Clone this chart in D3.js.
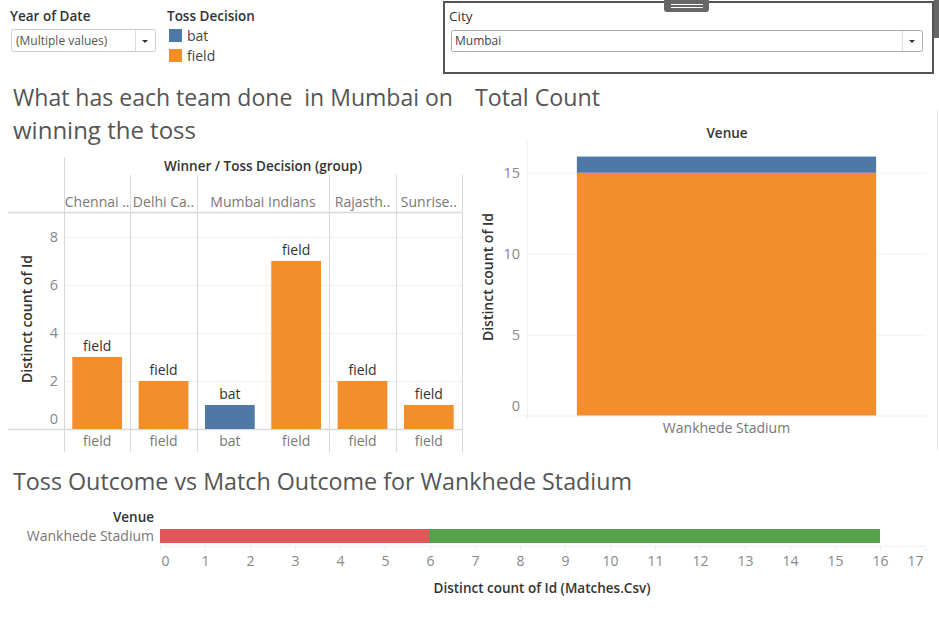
<!DOCTYPE html>
<html><head><meta charset="utf-8">
<script src="https://cdn.jsdelivr.net/npm/d3@7"></script>
<style>
body{margin:0;background:#fff;}
svg{display:block;font-family:"Open Sans",sans-serif;}
text{white-space:pre;}
</style></head>
<body><svg id="c" width="939" height="633"></svg>
<script>
// ---- data ----
const teams = ["Chennai ..", "Delhi Ca..", "Mumbai Indians", "Rajasth..", "Sunrise.."];
const barTeams = ["Chennai ..", "Delhi Ca..", "Mumbai Indians", "Mumbai Indians", "Rajasth..", "Sunrise.."];
const barDecisions = ["field", "field", "bat", "field", "field", "field"];
const barValues = [3, 2, 1, 7, 2, 1];
const leftTicks = [0, 2, 4, 6, 8];

const venueName = "Wankhede Stadium";
const venueDecisions = ["field", "bat"];
const venueValues = [15, 1];
const rightTicks = [0, 5, 10, 15];

const outcomeNames = ["Lost", "Won"];
const outcomeValues = [6, 10];
const bottomTicks = d3.range(0, 18);

const decisions = ["bat", "field"];
const colors = {bat: "#4E79A7", field: "#F28E2B"};
const outcomeColors = {Lost: "#E15759", Won: "#59A14F"};

const svg = d3.select("#c");
const txt = "#666", dark = "#333", grid = "#f0f0f0", line = "#d9d9d9";

// ---- top filters ----
svg.append("text").attr("x", 10).attr("y", 21).attr("font-size", 13.5).attr("font-weight", 600).attr("fill", dark).text("Year of Date");
svg.append("rect").attr("x", 11.5).attr("y", 29.5).attr("width", 144).attr("height", 22).attr("fill", "#fff").attr("stroke", "#ccc").attr("rx", 2);
svg.append("line").attr("x1", 135.5).attr("x2", 135.5).attr("y1", 30).attr("y2", 51).attr("stroke", "#ddd");
svg.append("text").attr("x", 16).attr("y", 45).attr("font-size", 12).attr("fill", "#555").text("(Multiple values)");
svg.append("path").attr("d", "M142,40 l6,0 l-3,3 z").attr("fill", "#333");

svg.append("text").attr("x", 167).attr("y", 21).attr("font-size", 13.5).attr("font-weight", 600).attr("fill", dark).text("Toss Decision");
const leg = svg.append("g").selectAll("g").data(decisions).join("g")
  .attr("transform", (d, i) => `translate(169,${29 + i * 20})`);
leg.append("rect").attr("width", 13).attr("height", 13).attr("fill", d => colors[d]);
leg.append("text").attr("x", 18).attr("y", 11.5).attr("font-size", 14).attr("fill", "#444").text(d => d);

// City filter
svg.append("rect").attr("x", 444).attr("y", 2).attr("width", 489).attr("height", 71).attr("fill", "#fff").attr("stroke", "#555").attr("stroke-width", 2);
svg.append("path").attr("d", "M664,0 h45 v9 q0,3 -3,3 h-39 q-3,0 -3,-3 z").attr("fill", "#666");
svg.append("line").attr("x1", 671).attr("x2", 703).attr("y1", 4.5).attr("y2", 4.5).attr("stroke", "#fff");
svg.append("line").attr("x1", 671).attr("x2", 703).attr("y1", 7.5).attr("y2", 7.5).attr("stroke", "#fff");
svg.append("rect").attr("x", 934).attr("y", 0).attr("width", 5).attr("height", 38).attr("fill", "#666");
svg.append("text").attr("x", 449).attr("y", 21).attr("font-size", 13.5).attr("fill", dark).text("City");
svg.append("rect").attr("x", 451.5).attr("y", 30.5).attr("width", 471).attr("height", 21).attr("fill", "#fff").attr("stroke", "#aaa").attr("rx", 2);
svg.append("line").attr("x1", 902.5).attr("x2", 902.5).attr("y1", 31).attr("y2", 51).attr("stroke", "#ddd");
svg.append("text").attr("x", 455).attr("y", 45).attr("font-size", 12).attr("fill", "#444").text("Mumbai");
svg.append("path").attr("d", "M909,40 l6,0 l-3,3 z").attr("fill", "#333");

// ---- titles ----
function title(t, x, y, w, fs) {
  svg.append("text").attr("x", x).attr("y", y).attr("font-size", fs).attr("font-weight", 400)
    .attr("fill", "#555").attr("textLength", w).attr("lengthAdjust", "spacingAndGlyphs").text(t);
}
title("What has each team done  in Mumbai on", 13, 106, 440, 23);
title("winning the toss", 13, 139, 183, 23);
title("Total Count", 475, 106, 125, 23);
title("Toss Outcome vs Match Outcome for Wankhede Stadium", 13, 490, 619, 23);

// ---- left chart ----
const L = {x0: 64, x1: 462, top: 212, base: 429};
const cols = d3.range(barValues.length);
const xL = d3.scaleBand().domain(cols).range([L.x0, L.x1]).paddingInner(0.25).paddingOuter(0.125);
const yL = d3.scaleLinear().domain([0, 9.04]).range([L.base, L.top]);
const step = xL.step();

const gL = svg.append("g");
gL.selectAll(".g").data(leftTicks.slice(1)).join("line")
  .attr("x1", L.x0).attr("x2", L.x1).attr("y1", d => yL(d) + 0.5).attr("y2", d => yL(d) + 0.5).attr("stroke", grid);
const teamStart = teams.map(t => barTeams.indexOf(t));
const teamCount = teams.map(t => barTeams.filter(b => b === t).length);
const bounds = teams.map((t, i) => [L.x0 + teamStart[i] * step, L.x0 + (teamStart[i] + teamCount[i]) * step]);
const vx = [L.x0].concat(bounds.map(b => b[1]));
gL.selectAll(".v").data(vx).join("line")
  .attr("x1", d => Math.round(d) + 0.5).attr("x2", d => Math.round(d) + 0.5)
  .attr("y1", (d, i) => i === 0 ? 157 : 175).attr("y2", 452).attr("stroke", line);
gL.append("line").attr("x1", 8).attr("x2", L.x1).attr("y1", L.top + 0.5).attr("y2", L.top + 0.5).attr("stroke", line).attr("stroke-width", 1.5);
gL.append("line").attr("x1", 8).attr("x2", L.x1).attr("y1", L.base + 0.5).attr("y2", L.base + 0.5).attr("stroke", line).attr("stroke-width", 1.5);
gL.append("text").attr("x", 263).attr("y", 171).attr("text-anchor", "middle").attr("font-size", 13.5).attr("font-weight", 600).attr("fill", dark).text("Winner / Toss Decision (group)");
gL.selectAll(".tn").data(teams).join("text")
  .attr("x", (d, i) => (bounds[i][0] + bounds[i][1]) / 2).attr("y", 207).attr("text-anchor", "middle")
  .attr("font-size", 14).attr("fill", "#777").text(d => d);
const yAx = d3.axisLeft(yL).tickValues(leftTicks).tickSize(0).tickPadding(0);
const ya = gL.append("g").attr("transform", "translate(58,0)").call(yAx);
ya.select(".domain").remove();
ya.selectAll("text").attr("font-size", 14.5).attr("fill", "#888").attr("font-family", "Open Sans")
  .attr("dy", d => d === 0 ? "-0.35em" : "0.32em");
gL.append("text").attr("transform", "translate(32,319) rotate(-90)").attr("text-anchor", "middle")
  .attr("font-size", 14).attr("font-weight", 600).attr("fill", dark).text("Distinct count of Id");
gL.selectAll(".bar").data(cols).join("rect")
  .attr("x", i => xL(i)).attr("width", xL.bandwidth())
  .attr("y", i => yL(barValues[i])).attr("height", i => yL(0) - yL(barValues[i]))
  .attr("fill", i => colors[barDecisions[i]]);
gL.selectAll(".lab").data(cols).join("text")
  .attr("x", i => xL(i) + xL.bandwidth() / 2).attr("y", i => yL(barValues[i]) - 6)
  .attr("text-anchor", "middle").attr("font-size", 14).attr("fill", dark).text(i => barDecisions[i]);
gL.selectAll(".bl").data(cols).join("text")
  .attr("x", i => xL(i) + xL.bandwidth() / 2).attr("y", 446)
  .attr("text-anchor", "middle").attr("font-size", 14).attr("fill", "#777").text(i => barDecisions[i]);

// ---- right chart ----
const R = {x0: 527, x1: 926, top: 142, base: 415.5};
const xR = d3.scaleBand().domain([venueName]).range([R.x0, R.x1]).paddingInner(0.25).paddingOuter(0.125);
const yR = d3.scaleLinear().domain([0, 16.9]).range([R.base, R.top]);
const gR = svg.append("g");
gR.append("text").attr("x", 727).attr("y", 138).attr("text-anchor", "middle").attr("font-size", 13.5).attr("font-weight", 600).attr("fill", dark).text("Venue");
gR.selectAll(".g").data(rightTicks.slice(1)).join("line")
  .attr("x1", R.x0).attr("x2", R.x1).attr("y1", d => yR(d) + 0.5).attr("y2", d => yR(d) + 0.5).attr("stroke", grid);
gR.append("line").attr("x1", R.x0 - 12).attr("x2", R.x1).attr("y1", R.base + 0.5).attr("y2", R.base + 0.5).attr("stroke", grid);
gR.append("line").attr("x1", R.x0 + 0.5).attr("x2", R.x0 + 0.5).attr("y1", R.top).attr("y2", 419).attr("stroke", grid);
gR.append("line").attr("x1", 937.5).attr("x2", 937.5).attr("y1", 110).attr("y2", 450).attr("stroke", "#e4e4e4");
const yRa = gR.append("g").attr("transform", "translate(520,0)").call(d3.axisLeft(yR).tickValues(rightTicks).tickSize(0).tickPadding(0));
yRa.select(".domain").remove();
yRa.selectAll("text").attr("font-size", 14.5).attr("fill", "#888").attr("font-family", "Open Sans")
  .attr("dy", d => d === 0 ? "-0.35em" : "0.32em");
gR.append("text").attr("transform", "translate(493,277) rotate(-90)").attr("text-anchor", "middle")
  .attr("font-size", 14).attr("font-weight", 600).attr("fill", dark).text("Distinct count of Id");
const stackR = d3.stack().keys(venueDecisions)([Object.fromEntries(venueDecisions.map((k, i) => [k, venueValues[i]]))]);
gR.selectAll(".sb").data(stackR).join("rect")
  .attr("x", xR(venueName)).attr("width", xR.bandwidth())
  .attr("y", d => yR(d[0][1])).attr("height", d => yR(d[0][0]) - yR(d[0][1]))
  .attr("fill", d => colors[d.key]);
gR.append("text").attr("x", xR(venueName) + xR.bandwidth() / 2).attr("y", 433).attr("text-anchor", "middle")
  .attr("font-size", 14).attr("fill", "#777").text(venueName);

// ---- bottom chart ----
const B = {y0: 529, h: 14};
const xB = d3.scaleLinear().domain([0, 17]).range([160, 925]);
const gB = svg.append("g");
gB.append("text").attr("x", 154).attr("y", 522).attr("text-anchor", "end").attr("font-size", 13.5).attr("font-weight", 600).attr("fill", dark).text("Venue");
gB.append("text").attr("x", 154).attr("y", 541).attr("text-anchor", "end").attr("font-size", 14).attr("fill", "#777").text(venueName);
const stackB = d3.stack().keys(outcomeNames)([Object.fromEntries(outcomeNames.map((k, i) => [k, outcomeValues[i]]))]);
gB.selectAll(".ob").data(stackB).join("rect")
  .attr("x", d => xB(d[0][0])).attr("width", d => xB(d[0][1]) - xB(d[0][0]))
  .attr("y", B.y0).attr("height", B.h).attr("fill", d => outcomeColors[d.key]);
gB.append("line").attr("x1", 160).attr("x2", 925).attr("y1", 546.5).attr("y2", 546.5).attr("stroke", grid);
const xBa = gB.append("g").attr("transform", "translate(0,546)").call(d3.axisBottom(xB).tickValues(bottomTicks).tickSize(5).tickPadding(5));
xBa.select(".domain").remove();
xBa.selectAll("line").attr("stroke", "#eee");
xBa.selectAll("text").attr("font-size", 14).attr("fill", "#888").attr("font-family", "Open Sans")
  .attr("dx", d => d === 0 ? 5 : d === 17 ? -10 : 0);
gB.append("text").attr("x", 542).attr("y", 593).attr("text-anchor", "middle").attr("font-size", 13.5).attr("font-weight", 600).attr("fill", dark).text("Distinct count of Id (Matches.Csv)");
</script></body></html>
